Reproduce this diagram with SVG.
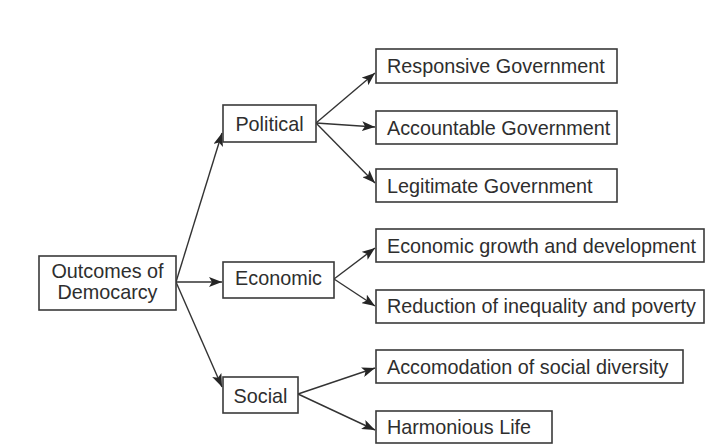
<svg xmlns="http://www.w3.org/2000/svg" width="717" height="447" viewBox="0 0 717 447">
<style>
.box{fill:#fff;stroke:#3a3a3a;stroke-width:1.6}
.t{font-family:"Liberation Sans",Arial,sans-serif;font-size:19.8px;fill:#2e2e2e}
.c{text-anchor:middle}
.edge{stroke:#333;stroke-width:1.4;fill:none;marker-end:url(#ah)}
</style>
<defs>
<marker id="ah" markerUnits="userSpaceOnUse" markerWidth="14" markerHeight="10" refX="13" refY="5" orient="auto">
<path d="M0,0 L13,5 L0,10 L3,5 z" fill="#252525"/>
</marker>
</defs>
<rect width="717" height="447" fill="#fff"/>
<g id="connectors">
<line class="edge" x1="176" y1="282" x2="222" y2="133"/>
<line class="edge" x1="176" y1="282" x2="222" y2="282"/>
<line class="edge" x1="176" y1="282" x2="222" y2="387"/>
<line class="edge" x1="316" y1="123" x2="375" y2="73"/>
<line class="edge" x1="316" y1="123" x2="375" y2="127"/>
<line class="edge" x1="316" y1="123" x2="375" y2="183"/>
<line class="edge" x1="334" y1="279" x2="375" y2="248"/>
<line class="edge" x1="334" y1="279" x2="375" y2="306"/>
<line class="edge" x1="298" y1="394" x2="375" y2="368"/>
<line class="edge" x1="298" y1="394" x2="375" y2="430"/>
</g>
<g id="outcomes">
<rect class="box" x="39" y="256" width="137" height="54"/>
<text class="t c" x="107.5" y="277.5">Outcomes of</text>
<text class="t c" x="107.5" y="299">Democarcy</text>
</g>
<g id="political">
<rect class="box" x="223" y="105" width="93" height="37"/>
<text class="t c" x="269.5" y="131">Political</text>
</g>
<g id="economic">
<rect class="box" x="223" y="262" width="111" height="36"/>
<text class="t c" x="278.5" y="285">Economic</text>
</g>
<g id="social">
<rect class="box" x="223" y="377" width="75" height="36"/>
<text class="t c" x="260.5" y="402.5">Social</text>
</g>
<g id="responsive">
<rect class="box" x="376" y="49" width="241" height="34"/>
<text class="t" x="387" y="73">Responsive Government</text>
</g>
<g id="accountable">
<rect class="box" x="376" y="111" width="241" height="33"/>
<text class="t" x="387" y="134.5">Accountable Government</text>
</g>
<g id="legitimate">
<rect class="box" x="376" y="169" width="241" height="33"/>
<text class="t" x="387" y="193">Legitimate Government</text>
</g>
<g id="growth">
<rect class="box" x="376" y="229" width="328" height="33"/>
<text class="t" x="387" y="252.5">Economic growth and development</text>
</g>
<g id="reduction">
<rect class="box" x="376" y="290" width="328" height="33"/>
<text class="t" x="387" y="313">Reduction of inequality and poverty</text>
</g>
<g id="accomodation">
<rect class="box" x="376" y="350" width="307" height="33"/>
<text class="t" x="387" y="373.5">Accomodation of social diversity</text>
</g>
<g id="harmonious">
<rect class="box" x="376" y="411" width="176" height="32"/>
<text class="t" x="387" y="434">Harmonious Life</text>
</g>
</svg>
